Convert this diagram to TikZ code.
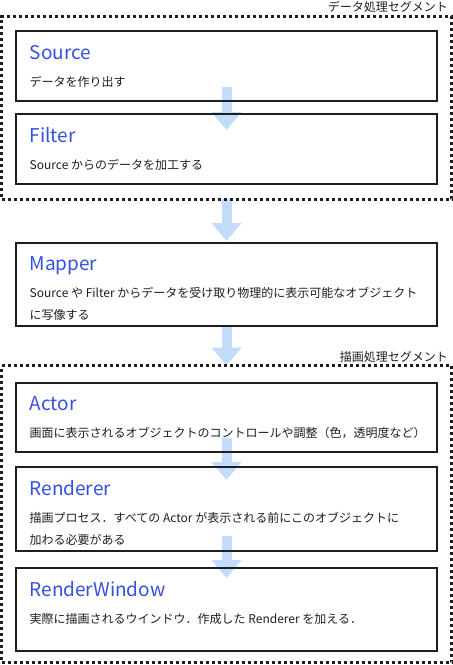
\documentclass[tikz,border=0pt]{standalone}
\usepackage{fontspec}
\setmainfont{Noto Sans CJK JP}
\usepackage{tikz}
\usetikzlibrary{arrows.meta, calc, backgrounds}

\definecolor{titleblue}{HTML}{3550E0}
\definecolor{flowblue}{HTML}{C4DCFB}
\definecolor{linegray}{HTML}{1E1E1E}

\begin{document}
\begin{tikzpicture}[x=1pt, y=-1pt, font=\fontsize{12}{22}\selectfont,
  text=linegray]

  \tikzset{
    compbox/.style={rectangle, draw=linegray, line width=2pt,
      minimum width=421pt, minimum height=#1, inner sep=0pt, outer sep=0pt},
    segment/.style={rectangle, draw=linegray, line width=3pt,
      dash pattern=on 3pt off 3pt, minimum width=450pt,
      minimum height=#1, inner sep=0pt, outer sep=0pt},
    boxtitle/.style={anchor=base west, inner sep=0pt, text=titleblue,
      font=\fontsize{19}{24}\selectfont},
    boxtext/.style={anchor=base west, inner sep=0pt, align=left},
    seglabel/.style={anchor=base east, inner sep=0pt},
    flow/.style={-{Triangle[width=29pt, length=18pt]}, line width=10pt,
      flowblue}
  }

  \useasboundingbox (0,0) rectangle (453,665);

  % data processing segment
  \node[segment=182.5pt] (data) at (226.5,107.75) {};
  \node[seglabel] (datalabel) at ($(data.north east)+(-3.5,-5.5)$)
    {データ処理セグメント};

  \node[compbox=70pt] (source) at (226.5,66) {};
  \node[boxtitle] (sourcetitle) at ($(source.north west)+(13.5,28)$)
    {Source};
  \node[boxtext] (sourcetext) at ($(source.north west)+(13.5,55)$)
    {データを作り出す};

  \node[compbox=70pt] (filter) at (226.5,149) {};
  \node[boxtitle] (filtertitle) at ($(filter.north west)+(13.5,28)$)
    {Filter};
  \node[boxtext] (filtertext) at ($(filter.north west)+(13.5,55)$)
    {Source からのデータを加工する};

  % mapper (two lines: base is the last line)
  \node[compbox=83pt] (mapper) at (226.5,284) {};
  \node[boxtitle] (mappertitle) at ($(mapper.north west)+(13.5,28)$)
    {Mapper};
  \node[boxtext] (mappertext) at ($(mapper.north west)+(13.5,77)$)
    {Source や Filter からデータを受け取り物理的に表示可能なオブジェクト\\
     に写像する};

  % rendering segment
  \node[segment=297pt] (render) at (226.5,514) {};
  \node[seglabel] (renderlabel) at ($(render.north east)+(-3.5,-4)$)
    {描画処理セグメント};

  \node[compbox=69pt] (actor) at (226.5,417) {};
  \node[boxtitle] (actortitle) at ($(actor.north west)+(13.5,28)$)
    {Actor};
  \node[boxtext] (actortext) at ($(actor.north west)+(13.5,55)$)
    {画面に表示されるオブジェクトのコントロールや調整（色，透明度など）};

  \node[compbox=83.5pt] (renderer) at (226.5,508.75) {};
  \node[boxtitle] (renderertitle) at ($(renderer.north west)+(13.5,28)$)
    {Renderer};
  \node[boxtext] (renderertext) at ($(renderer.north west)+(13.5,77)$)
    {描画プロセス．すべての Actor が表示される前にこのオブジェクトに\\
     加わる必要がある};

  \node[compbox=82.7pt] (window) at (226.5,609.65) {};
  \node[boxtitle] (windowtitle) at ($(window.north west)+(13.5,28)$)
    {RenderWindow};
  \node[boxtext] (windowtext) at ($(window.north west)+(13.5,55)$)
    {実際に描画されるウインドウ．作成した Renderer を加える．};

  % flow arrows behind the boxes
  \begin{pgfonlayer}{background}
    \draw[flow, shorten <=-14pt, shorten >=-16pt] (source.south) -- (filter.north);
    \draw[flow, shorten >=1.5pt] (data.south) -- (mapper.north);
    \draw[flow] (mapper.south) -- (render.north);
    \draw[flow, shorten <=-13.5pt, shorten >=-13pt] (actor.south) -- (renderer.north);
    \draw[flow, shorten <=-14.5pt, shorten >=-9.7pt] (renderer.south) -- (window.north);
  \end{pgfonlayer}

\end{tikzpicture}
\end{document}
